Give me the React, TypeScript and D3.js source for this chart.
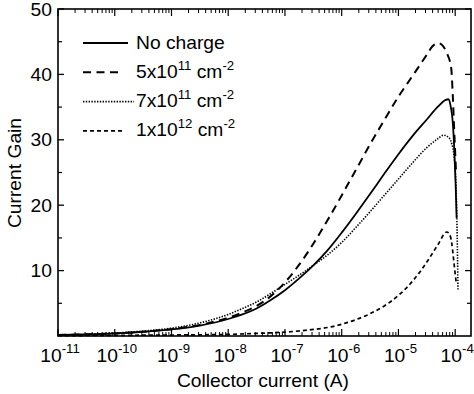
import * as d3 from "d3";

// current gain vs collector current, log x axis

const noChargeI = [1e-11, 3.16e-11, 1e-10, 3.16e-10, 1e-9, 3.16e-9, 1e-8, 1.78e-8, 3.16e-8, 5.62e-8, 1e-7, 1.78e-7, 3.16e-7, 5.62e-7, 1e-6, 1.78e-6, 3.16e-6, 5.62e-6, 1e-5, 1.78e-5, 3.16e-5, 5e-5, 6.8e-5, 7.6e-5, 8.3e-5, 9.1e-5, 9.7e-5, 1.02e-4, 1.06e-4];
const noChargeG = [0.15, 0.25, 0.4, 0.65, 1.0, 1.6, 2.6, 3.3, 4.2, 5.5, 7.0, 8.8, 10.8, 13.1, 15.8, 18.7, 21.7, 24.8, 27.8, 30.6, 33.1, 35.1, 36.1, 36.2, 35.2, 32.5, 28, 23, 18];

const q5e11I = [1e-11, 3.16e-11, 1e-10, 3.16e-10, 1e-9, 3.16e-9, 1e-8, 1.78e-8, 3.16e-8, 5.62e-8, 1e-7, 1.78e-7, 3.16e-7, 5.62e-7, 1e-6, 1.78e-6, 3.16e-6, 5.62e-6, 1e-5, 1.78e-5, 3.16e-5, 3.98e-5, 5e-5, 6.03e-5, 7.08e-5, 8.5e-5, 9.1e-5, 9.55e-5, 1e-4, 1.035e-4];
const q5e11G = [0.15, 0.25, 0.4, 0.65, 1.05, 1.7, 2.8, 3.6, 4.6, 6.1, 8.2, 10.9, 14.1, 17.7, 21.5, 25.4, 29.3, 33.0, 36.6, 39.8, 43.0, 44.3, 44.8, 44.4, 43.3, 41, 36.5, 32, 28, 25];

const q7e11I = [1e-11, 3.16e-11, 1e-10, 3.16e-10, 1e-9, 3.16e-9, 1e-8, 1.78e-8, 3.16e-8, 5.62e-8, 1e-7, 1.78e-7, 3.16e-7, 5.62e-7, 1e-6, 1.78e-6, 3.16e-6, 5.62e-6, 1e-5, 1.78e-5, 3.16e-5, 5e-5, 6.2e-5, 7.6e-5, 8.7e-5, 9.55e-5, 1.02e-4, 1.07e-4, 1.1e-4, 1.12e-4];
const q7e11G = [0.15, 0.25, 0.45, 0.75, 1.2, 2.0, 3.3, 4.2, 5.2, 6.5, 7.9, 9.3, 10.8, 12.4, 14.3, 16.6, 19.0, 21.5, 24.0, 26.5, 28.8, 30.2, 30.7, 30.4, 29.4, 27.5, 24, 18, 12, 7];

const q1e12I = [1e-11, 1e-10, 1e-9, 1e-8, 3.16e-8, 1e-7, 3.16e-7, 5.62e-7, 1e-6, 1.78e-6, 3.16e-6, 5.62e-6, 1e-5, 1.78e-5, 3.16e-5, 5e-5, 7.1e-5, 7.9e-5, 8.7e-5, 9.3e-5, 1e-4, 1.05e-4];
const q1e12G = [0.05, 0.1, 0.15, 0.25, 0.4, 0.6, 1.0, 1.3, 1.8, 2.5, 3.4, 4.6, 6.2, 8.4, 11.3, 14, 15.9, 15.6, 14.2, 12, 9.5, 8];

const yTicks = [10, 20, 30, 40, 50];
const yMinor = [5, 15, 25, 35, 45];
const xExps = [-11, -10, -9, -8, -7, -6, -5, -4];

const series = [
  { label: "No charge", sup: "", base: "", I: noChargeI, G: noChargeG, dash: "", w: 1.8 },
  { label: "5x10", sup: "11", base: " cm", I: q5e11I, G: q5e11G, dash: "8,5.5", w: 2 },
  { label: "7x10", sup: "11", base: " cm", I: q7e11I, G: q7e11G, dash: "1.4,1.4", w: 1.6 },
  { label: "1x10", sup: "12", base: " cm", I: q1e12I, G: q1e12G, dash: "4,3", w: 1.7 },
];

const W = 474, H = 394;
const left = 58, right = 471, top = 9, bottom = 336;
const font = "'Liberation Sans', Arial, sans-serif";
const sx = "scale(1.1,1)";

export default function App() {
  const x = d3.scaleLog().domain([1e-11, 1.9e-4]).range([left, right]);
  const y = d3.scaleLinear().domain([0, 50]).range([bottom, top]);

  const minorX: number[] = [];
  xExps.forEach((e) => {
    for (let k = 2; k <= 9; k++) {
      const v = k * Math.pow(10, e);
      if (v < 1.9e-4) minorX.push(v);
    }
  });

  const line = d3
    .line<[number, number]>()
    .x((d) => x(d[0]))
    .y((d) => y(d[1]))
    .curve(d3.curveMonotoneX);

  return (
    <svg width={W} height={H} style={{ position: "absolute", left: 0, top: 0, background: "#fff" }} fontFamily={font}>
      <rect width={W} height={H} fill="#fff" />
      {/* curves */}
      {series.map((s, i) => (
        <path
          key={i}
          d={line(s.I.map((v, j) => [v, s.G[j]]) as [number, number][]) || ""}
          fill="none"
          stroke="#000"
          strokeWidth={s.w}
          strokeDasharray={s.dash || undefined}
        />
      ))}

      {/* frame */}
      <rect x={left} y={top} width={right - left} height={bottom - top} fill="none" stroke="#000" strokeWidth={1.6} />

      {/* y ticks, both sides, inward */}
      {yTicks.map((t) => (
        <g key={"y" + t}>
          <line x1={left} x2={left + 6} y1={y(t)} y2={y(t)} stroke="#000" strokeWidth={1.3} />
          <line x1={right} x2={right - 6} y1={y(t)} y2={y(t)} stroke="#000" strokeWidth={1.3} />
          <text transform={`translate(52,${y(t) + 6.5}) ${sx}`} textAnchor="end" fontSize={17.5}>
            {t}
          </text>
        </g>
      ))}
      {yMinor.map((t) => (
        <g key={"ym" + t}>
          <line x1={left} x2={left + 4} y1={y(t)} y2={y(t)} stroke="#000" strokeWidth={1.2} />
          <line x1={right} x2={right - 4} y1={y(t)} y2={y(t)} stroke="#000" strokeWidth={1.2} />
        </g>
      ))}

      {/* x ticks, bottom and top, inward */}
      {xExps.map((e) => {
        const px = x(Math.pow(10, e));
        return (
          <g key={"x" + e}>
            <line x1={px} x2={px} y1={bottom} y2={bottom - 7} stroke="#000" strokeWidth={1.2} />
            <line x1={px} x2={px} y1={top} y2={top + 7} stroke="#000" strokeWidth={1.2} />
            <text transform={`translate(${px + 2},362) ${sx}`} textAnchor="middle" fontSize={17.5}>
              10
              <tspan dy={-9} fontSize={12}>
                {e}
              </tspan>
            </text>
          </g>
        );
      })}
      {minorX.map((v, i) => (
        <g key={"xm" + i}>
          <line x1={x(v)} x2={x(v)} y1={bottom} y2={bottom - 4} stroke="#000" strokeWidth={1} />
          <line x1={x(v)} x2={x(v)} y1={top} y2={top + 4} stroke="#000" strokeWidth={1} />
        </g>
      ))}

      {/* axis titles */}
      <text transform={`translate(263,387) ${sx}`} textAnchor="middle" fontSize={17.5}>
        Collector current (A)
      </text>
      <text transform={`translate(21,173) rotate(-90) ${sx}`} textAnchor="middle" fontSize={17.5}>
        Current Gain
      </text>

      {/* legend */}
      {series.map((s, i) => {
        const ly = 43 + i * 29.3;
        const x2 = [128, 122, 134, 124][i];
        return (
          <g key={"lg" + i}>
            <line x1={83} x2={x2} y1={ly} y2={ly} stroke="#000" strokeWidth={s.w} strokeDasharray={s.dash || undefined} />
            <text transform={`translate(136,${ly + 5.5}) ${sx}`} fontSize={17.5}>
              {s.label}
              {s.sup && (
                <>
                  <tspan dy={-8} fontSize={12}>{s.sup}</tspan>
                  <tspan dy={8}>{s.base}</tspan>
                  <tspan dy={-8} fontSize={12}>-2</tspan>
                </>
              )}
            </text>
          </g>
        );
      })}
    </svg>
  );
}
